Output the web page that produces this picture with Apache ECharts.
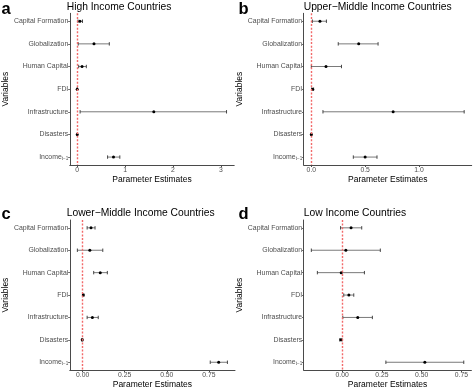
<!DOCTYPE html>
<html><head><meta charset="utf-8">
<script src="https://cdn.jsdelivr.net/npm/echarts@6/dist/echarts.min.js"></script>
<style>html,body{margin:0;padding:0;background:#fff}#c{width:474px;height:390px}</style>
</head><body><div id="c"></div>
<script>
// ---- data ----
const variables = ['Capital Formation','Globalization','Human Capital','FDI','Infrastructure','Disasters','Income'];
const incomeSub = 't−1';
const panelLetters = ['a','b','c','d'];
const panelTitles = ['High Income Countries','Upper−Middle Income Countries','Lower−Middle Income Countries','Low Income Countries'];

const highEst  = [0.055, 0.35, 0.10, 0.0, 1.60, 0.0, 0.757];
const highLow  = [0.015, 0.02, 0.03, -0.004, 0.06, -0.004, 0.634];
const highHigh = [0.11, 0.67, 0.19, 0.004, 3.12, 0.004, 0.89];

const upperEst  = [0.08, 0.44, 0.136, 0.012, 0.76, 0.0, 0.50];
const upperLow  = [0.01, 0.25, 0.0, 0.003, 0.108, -0.004, 0.39];
const upperHigh = [0.14, 0.62, 0.28, 0.021, 1.42, 0.004, 0.61];

const lowerEst  = [0.05, 0.043, 0.105, 0.004, 0.058, -0.002, 0.808];
const lowerLow  = [0.027, -0.031, 0.066, 0.0, 0.027, -0.005, 0.758];
const lowerHigh = [0.074, 0.12, 0.147, 0.008, 0.093, 0.001, 0.86];

const lowEst  = [0.056, 0.023, -0.006, 0.042, 0.098, -0.008, 0.52];
const lowLow  = [-0.01, -0.194, -0.156, 0.01, 0.004, -0.015, 0.275];
const lowHigh = [0.123, 0.24, 0.14, 0.073, 0.19, -0.001, 0.765];

const tickValuesA = [0, 1, 2, 3];        const tickLabelsA = ['0','1','2','3'];
const tickValuesB = [0, 0.5, 1.0];       const tickLabelsB = ['0.0','0.5','1.0'];
const tickValuesC = [0, 0.25, 0.5, 0.75]; const tickLabelsC = ['0.00','0.25','0.50','0.75'];
const tickValuesD = [0, 0.25, 0.5, 0.75]; const tickLabelsD = ['0.00','0.25','0.50','0.75'];
const xRanges = [[-0.156, 3.28], [-0.071, 1.49], [-0.076, 0.905], [-0.242, 0.813]];

// ---- build ----
const FONT = "'Liberation Sans', Arial, Helvetica, sans-serif";
const panels = [
  {est: highEst,  low: highLow,  high: highHigh,  tv: tickValuesA, tl: tickLabelsA},
  {est: upperEst, low: upperLow, high: upperHigh, tv: tickValuesB, tl: tickLabelsB},
  {est: lowerEst, low: lowerLow, high: lowerHigh, tv: tickValuesC, tl: tickLabelsC},
  {est: lowEst,   low: lowLow,   high: lowHigh,   tv: tickValuesD, tl: tickLabelsD}
];
const grids = [
  {left: 66.7,  top: 13.3, width: 167.5, height: 151.7},
  {left: 303.7, top: 13.3, width: 168,   height: 151.7},
  {left: 66.7,  top: 220,  width: 168.3, height: 150.3},
  {left: 303.7, top: 220,  width: 167.7, height: 150.5}
];
const axisColor = '#4a4a4a';
const labelColor = '#4d4d4d';
const catIdx = variables.map((_, i) => i);

function renderBar(params, api) {
  const y = api.value(3);
  const pE = api.coord([api.value(0), y]);
  const pL = api.coord([api.value(1), y]);
  const pH = api.coord([api.value(2), y]);
  const h = 1.7;
  return {type: 'group', children: [
    {type: 'line', shape: {x1: pL[0], y1: pL[1], x2: pH[0], y2: pH[1]}, style: {stroke: '#7a7a7a', lineWidth: 1}},
    {type: 'line', shape: {x1: pL[0], y1: pL[1]-h, x2: pL[0], y2: pL[1]+h}, style: {stroke: '#444', lineWidth: 1}},
    {type: 'line', shape: {x1: pH[0], y1: pH[1]-h, x2: pH[0], y2: pH[1]+h}, style: {stroke: '#444', lineWidth: 1}},
    {type: 'circle', shape: {cx: pE[0], cy: pE[1], r: 1.5}, style: {fill: '#000'}}
  ]};
}

const option = {
  animation: false,
  backgroundColor: '#fff',
  textStyle: {fontFamily: FONT},
  title: [],
  grid: grids,
  xAxis: [], yAxis: [], series: []
};

const titlePos = [[66.7, 2.4], [303.7, 2.4], [66.7, 208.6], [303.7, 208.6]];
const letterPos = [[1.5, 1], [238.5, 1], [1.5, 206], [238.5, 206]];

panels.forEach((p, i) => {
  option.title.push({text: panelLetters[i], left: letterPos[i][0], top: letterPos[i][1], padding: 0,
    textStyle: {fontSize: 16.5, fontWeight: 'bold', color: '#000', fontFamily: FONT}});
  option.title.push({text: panelTitles[i], left: titlePos[i][0], top: titlePos[i][1], padding: 0,
    textStyle: {fontSize: 10.3, fontWeight: 'normal', color: '#000', fontFamily: FONT}});
  option.xAxis.push({
    type: 'value', gridIndex: i, min: xRanges[i][0], max: xRanges[i][1],
    name: 'Parameter Estimates', nameLocation: 'middle', nameGap: 9,
    nameTextStyle: {fontSize: 8.5, color: '#000', fontFamily: FONT},
    axisLine: {show: true, onZero: false, lineStyle: {color: axisColor, width: 1}},
    axisTick: {show: true, length: 2, customValues: p.tv, lineStyle: {color: axisColor}},
    axisLabel: {show: true, margin: 2, fontSize: 6.8, color: labelColor, fontFamily: FONT,
      customValues: p.tv, formatter: (v) => { const k = p.tv.findIndex(t => Math.abs(t - v) < 1e-9); return k >= 0 ? p.tl[k] : ''; }},
    splitLine: {show: false}
  });
  option.yAxis.push({
    type: 'value', gridIndex: i, min: -0.35, max: variables.length - 1 + 0.35, inverse: true,
    name: 'Variables', nameLocation: 'middle', nameGap: 58.5, nameRotate: 90,
    nameTextStyle: {fontSize: 8.5, color: '#000', fontFamily: FONT},
    axisLine: {show: true, onZero: false, lineStyle: {color: axisColor, width: 1}},
    axisTick: {show: true, length: 1.5, customValues: catIdx, lineStyle: {color: axisColor}},
    axisLabel: {show: true, margin: 1.5, fontSize: 6.9, color: labelColor, fontFamily: FONT,
      customValues: catIdx,
      formatter: (v) => { const k = Math.round(v); return k === variables.length - 1 ? '{m|' + variables[k] + '}{s|' + incomeSub + '}' : variables[k]; },
      rich: {
        m: {fontSize: 6.9, color: labelColor, fontFamily: FONT, lineHeight: 8},
        s: {fontSize: 4.6, color: labelColor, fontFamily: FONT, lineHeight: 4.6, verticalAlign: 'bottom', padding: [5, 0, 0, 0]}
      }},
    splitLine: {show: false}
  });
  option.series.push({
    type: 'custom', xAxisIndex: i, yAxisIndex: i,
    renderItem: renderBar,
    encode: {x: [0, 1, 2], y: 3},
    data: variables.map((_, k) => [p.est[k], p.low[k], p.high[k], k]),
    z: 3
  });
  option.series.push({
    type: 'line', xAxisIndex: i, yAxisIndex: i, data: [], silent: true, z: 2,
    markLine: {silent: true, symbol: 'none', label: {show: false}, animation: false,
      lineStyle: {color: '#f26a6a', type: [2, 1.6], width: 1.4},
      emphasis: {disabled: true},
      data: [{xAxis: 0}]}
  });
});

const chart = echarts.init(document.getElementById('c'), null, {renderer: 'canvas'});
chart.setOption(option);
</script>
</body></html>
